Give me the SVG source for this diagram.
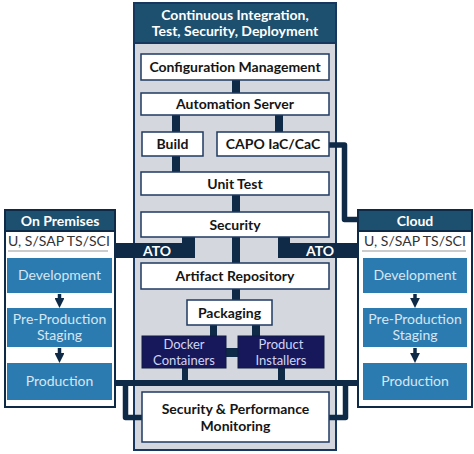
<svg xmlns="http://www.w3.org/2000/svg" width="474" height="454" viewBox="0 0 474 454">
<style>
.node{fill:#ffffff;stroke:#1f3a60;stroke-width:1.5}
.dnode{fill:#17185c;stroke:#0e1a40;stroke-width:1}
.blue{fill:#2c7bb0;stroke:none}
.t{font-family:Lato,"Liberation Sans",sans-serif;font-weight:bold;font-size:14px;fill:#151515;text-anchor:middle}
.tw{font-family:Lato,"Liberation Sans",sans-serif;font-weight:bold;font-size:14px;fill:#ffffff;text-anchor:middle}
.tl{font-family:Lato,"Liberation Sans",sans-serif;font-size:14px;fill:#d6e6f3;text-anchor:middle}
.td{font-family:Lato,"Liberation Sans",sans-serif;font-size:13px;fill:#cfd4f2;text-anchor:middle}
.tg{font-family:Lato,"Liberation Sans",sans-serif;font-size:14px;fill:#333333;text-anchor:middle}
.c{fill:#0e2a47}
.cl{fill:none;stroke:#0e2a47;stroke-width:5.5;stroke-linejoin:round}
.arr{stroke:#0e2a47;stroke-width:3.5;marker-end:url(#ah)}
</style>
<defs>
<marker id="ah" viewBox="0 0 10 10" refX="4" refY="5" markerWidth="2.8" markerHeight="2.8" orient="auto">
<path d="M0,0 L10,5 L0,10 z" fill="#0e2a47"/>
</marker>
</defs>

<g id="ci-container">
<rect x="134" y="3" width="202" height="447" fill="#d4d8de" stroke="#17375e" stroke-width="2"/>
<rect x="134" y="3" width="202" height="40" fill="#1d4f6e" stroke="#17375e" stroke-width="2"/>
<text class="tw" x="235" y="20" font-size="15">Continuous Integration,</text>
<text class="tw" x="235" y="36" font-size="15">Test, Security, Deployment</text>
</g>

<g id="connectors">
<rect class="c" x="232" y="80" width="8" height="13"/>
<rect class="c" x="172" y="115" width="8" height="17"/>
<rect class="c" x="275" y="115" width="8" height="17"/>
<rect class="c" x="172" y="156" width="8" height="16"/>
<rect class="c" x="232" y="195" width="8" height="17"/>
<rect class="c" x="232" y="237" width="8" height="26"/>
<rect class="c" x="182" y="237" width="13" height="21"/>
<rect class="c" x="115" y="243" width="80" height="15"/>
<rect class="c" x="278" y="237" width="12" height="21"/>
<rect class="c" x="278" y="243" width="80" height="15"/>
<text class="tw" x="157" y="256" font-weight="normal" font-size="13.5">ATO</text>
<text class="tw" x="320" y="256" font-weight="normal" font-size="13.5">ATO</text>
<rect class="c" x="232" y="289" width="8" height="11"/>
<rect class="c" x="210" y="325" width="7" height="11"/>
<rect class="c" x="252" y="325" width="8" height="11"/>
<rect class="c" x="226" y="348" width="12" height="9"/>
<rect class="c" x="182" y="368" width="6" height="15"/>
<rect class="c" x="278" y="368" width="7" height="15"/>
<rect class="c" x="115" y="380" width="243" height="6"/>
<path class="cl" d="M125.5,383 V417.5 H142"/>
<path class="cl" d="M345.5,383 V417.5 H329"/>
<path class="cl" d="M329,145 H344.5 V219.5 H358" stroke-width="6"/>
</g>

<g id="config-management">
<rect class="node" x="141" y="54" width="188" height="26"/>
<text class="t" x="235" y="72">Configuration Management</text>
</g>
<g id="automation-server">
<rect class="node" x="141" y="93" width="188" height="22"/>
<text class="t" x="235" y="109">Automation Server</text>
</g>
<g id="build">
<rect class="node" x="142" y="132" width="61" height="24"/>
<text class="t" x="172.5" y="149">Build</text>
</g>
<g id="capo">
<rect class="node" x="217" y="132" width="112" height="24"/>
<text class="t" x="273" y="149">CAPO IaC/CaC</text>
</g>
<g id="unit-test">
<rect class="node" x="141" y="172" width="188" height="23"/>
<text class="t" x="235" y="188.5">Unit Test</text>
</g>
<g id="security">
<rect class="node" x="141" y="212" width="188" height="25"/>
<text class="t" x="235" y="229.5">Security</text>
</g>
<g id="artifact-repository">
<rect class="node" x="141" y="263" width="188" height="26"/>
<text class="t" x="235" y="281">Artifact Repository</text>
</g>
<g id="packaging">
<rect class="node" x="187" y="300" width="85" height="25"/>
<text class="t" x="229.5" y="317.5">Packaging</text>
</g>
<g id="docker-containers">
<rect class="dnode" x="142" y="336" width="84" height="32"/>
<text class="td" x="184" y="349">Docker</text>
<text class="td" x="184" y="364.5">Containers</text>
</g>
<g id="product-installers">
<rect class="dnode" x="238" y="336" width="86" height="32"/>
<text class="td" x="281" y="349">Product</text>
<text class="td" x="281" y="364.5">Installers</text>
</g>
<g id="monitoring">
<rect class="node" x="142" y="392" width="187" height="50"/>
<text class="t" x="235.5" y="414">Security &amp; Performance</text>
<text class="t" x="235.5" y="431">Monitoring</text>
</g>

<g id="on-premises">
<rect x="5" y="210" width="110" height="197" fill="#ffffff" stroke="#0e2a47" stroke-width="2"/>
<rect x="5" y="210" width="110" height="21" fill="#1d4f6e" stroke="#0e2a47" stroke-width="2"/>
<text class="tw" x="60" y="225.5">On Premises</text>
<text class="tg" x="59" y="246">U, S/SAP TS/SCI</text>
<line x1="8" y1="251" x2="108" y2="251" stroke="#9a9a9a" stroke-width="1.2"/>
<rect class="blue" x="7" y="258" width="105" height="35"/>
<text class="tl" x="59.5" y="280">Development</text>
<line class="arr" x1="59.5" y1="294" x2="59.5" y2="302"/>
<rect class="blue" x="7" y="308" width="105" height="39"/>
<text class="tl" x="59.5" y="324">Pre-Production</text>
<text class="tl" x="59.5" y="340">Staging</text>
<line class="arr" x1="59.5" y1="348" x2="59.5" y2="357"/>
<rect class="blue" x="7" y="363" width="105" height="37"/>
<text class="tl" x="59.5" y="386">Production</text>
</g>

<g id="cloud">
<rect x="358" y="210" width="114" height="197" fill="#ffffff" stroke="#0e2a47" stroke-width="2"/>
<rect x="358" y="210" width="114" height="21" fill="#1d4f6e" stroke="#0e2a47" stroke-width="2"/>
<text class="tw" x="415" y="225.5">Cloud</text>
<text class="tg" x="415" y="246">U, S/SAP TS/SCI</text>
<line x1="362" y1="251" x2="466" y2="251" stroke="#9a9a9a" stroke-width="1.2"/>
<rect class="blue" x="363" y="258" width="104" height="35"/>
<text class="tl" x="415" y="280">Development</text>
<line class="arr" x1="415" y1="294" x2="415" y2="302"/>
<rect class="blue" x="363" y="308" width="104" height="39"/>
<text class="tl" x="415" y="324">Pre-Production</text>
<text class="tl" x="415" y="340">Staging</text>
<line class="arr" x1="415" y1="348" x2="415" y2="357"/>
<rect class="blue" x="363" y="363" width="104" height="37"/>
<text class="tl" x="415" y="386">Production</text>
</g>
</svg>
